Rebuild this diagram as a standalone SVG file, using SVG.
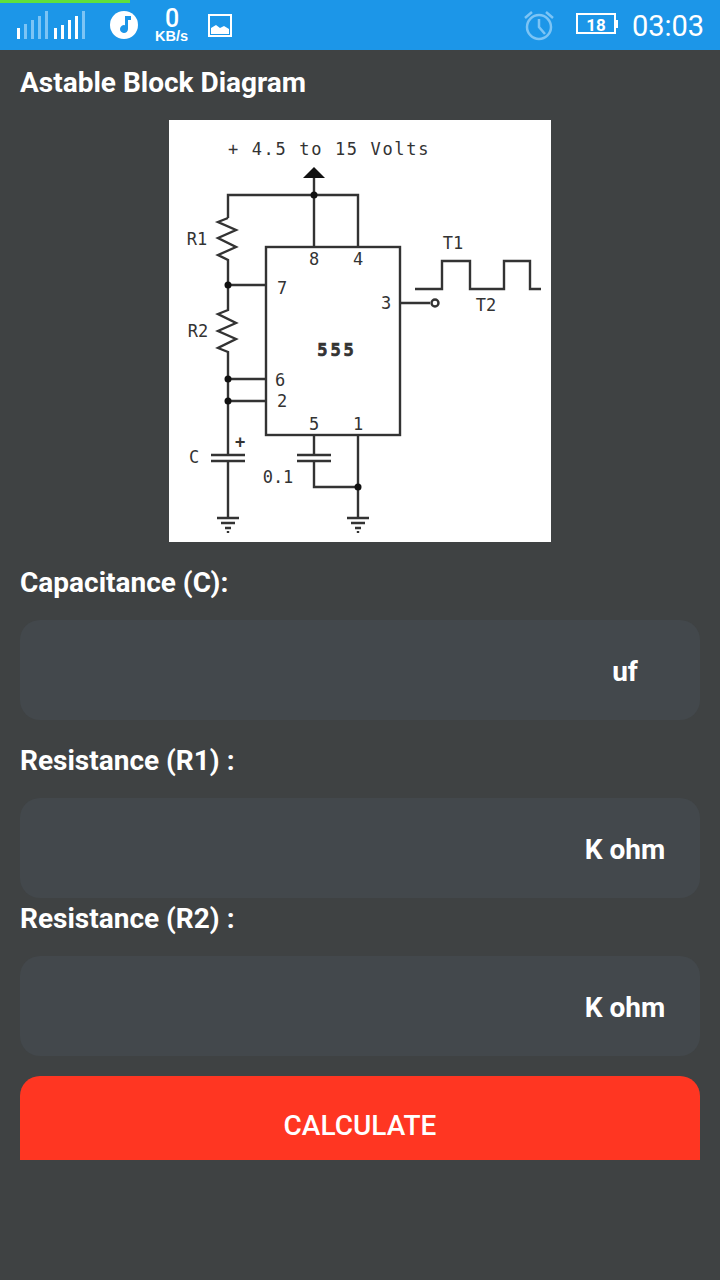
<svg xmlns="http://www.w3.org/2000/svg" width="720" height="1280" viewBox="0 0 720 1280">
<style>
.ui{font-family:Roboto,"Liberation Sans",sans-serif;fill:#fff}
.lab{font-size:28px;font-weight:700}
.unit{font-size:28px;font-weight:700;text-anchor:middle}
.field{fill:#43484c}
.w{fill:none;stroke:#333;stroke-width:2.400}
.dot{fill:#111}
.c{font-family:"DejaVu Sans Mono","Liberation Mono",monospace;font-size:17px;fill:#333;text-anchor:middle}
.sig{fill:#fff}
.sigd{fill:#7cc4f5}
</style>
<rect width="720" height="1280" fill="#3f4243"/>
<g id="status-bar">
<rect width="720" height="50" fill="#1c96e8"/>
<rect width="130" height="3" fill="#5fe03c"/>
<g class="sig">
<rect x="17" y="28" width="3" height="11"/><rect x="54" y="28" width="3" height="11"/><rect x="61" y="25" width="3" height="14"/><rect x="68" y="20" width="3" height="19"/><rect x="75" y="16" width="3" height="23"/>
</g>
<g class="sigd">
<rect x="24" y="24" width="3" height="15"/><rect x="31" y="20" width="3" height="19"/><rect x="38" y="16" width="3" height="23"/><rect x="45" y="11" width="3" height="28"/><rect x="82" y="11" width="3" height="28"/>
</g>
<circle cx="124" cy="25" r="14" fill="#fff"/>
<path d="M125 16h6v4h-3v9a4 4 0 1 1-3-3.800z" fill="#1c96e8"/>
<text x="172" y="27" class="ui" font-size="25" font-weight="500" text-anchor="middle">0</text>
<text x="171.500" y="41" font-family="Liberation Sans,sans-serif" font-size="14.500" font-weight="700" fill="#fff" text-anchor="middle">KB/s</text>
<rect x="209" y="15" width="22" height="21" fill="none" stroke="#fff" stroke-width="2"/>
<path d="M211 34v-6l5-3 4 3 4-2 5 3v5z" fill="#fff"/>
<g fill="none" stroke="#7cc4f5" stroke-width="2.500">
<circle cx="539" cy="27" r="12"/><path d="M539 19v8l6 7M525 18l7-6M553 18l-7-6"/>
</g>
<rect x="577" y="14" width="38" height="19" fill="none" stroke="#fff" stroke-width="2"/>
<rect x="616" y="20" width="2" height="8" fill="#fff"/>
<text x="596" y="31" class="ui" font-size="17" font-weight="700" text-anchor="middle">18</text>
<text x="668" y="36" class="ui" font-size="29" text-anchor="middle">03:03</text>
</g>
<text id="title" x="20" y="92" class="ui lab">Astable Block Diagram</text>
<g id="circuit">
<rect x="169" y="120" width="382" height="422" fill="#fff"/>
<g id="connectors" class="w">
<path d="M228 218V195H358V247M314 172V247"/>
<path d="M228 218L218 222 236 230 218 238 236 247 218 255 228 260V310L218 314 236 323 218 331 236 339 218 348 228 352V455"/>
<path d="M228 285H266M228 379H266M228 401H266M228 461V518"/>
<path d="M211 455H245M211 461H245M297 455H331M297 461H331"/>
<path d="M314 435V455M314 461V487H358M358 435V518"/>
<path d="M217 518H239M221 523H235M225 528H231M228 531v2M347 518H369M351 523H365M355 528H361M358 531v2"/>
<path d="M400 303H430M415 289H442V261H470V289H504V261H530V289H541"/>
<circle cx="435" cy="303" r="3.500"/>
</g>
<rect id="chip" x="266" y="247" width="134" height="188" class="w"/>
<path d="M314 167L325 178H303z" class="dot"/>
<circle cx="314" cy="195" r="3.500" class="dot"/><circle cx="228" cy="285" r="3.500" class="dot"/><circle cx="228" cy="379" r="3.500" class="dot"/><circle cx="228" cy="401" r="3.500" class="dot"/><circle cx="358" cy="487" r="3.500" class="dot"/>
<text x="329" y="155" class="c" letter-spacing="1.650">+ 4.5 to 15 Volts</text>
<text x="197" y="245" class="c">R1</text><text x="198" y="337" class="c">R2</text>
<text x="314" y="265" class="c">8</text><text x="358" y="265" class="c">4</text><text x="282" y="294" class="c">7</text><text x="386" y="309" class="c">3</text>
<text x="280" y="386" class="c">6</text><text x="282" y="407" class="c">2</text><text x="314" y="430" class="c">5</text><text x="358" y="430" class="c">1</text>
<text x="337" y="356" class="c" font-weight="700" font-size="20" letter-spacing="3" stroke="#333" stroke-width="0.700">555</text>
<text x="194" y="463" class="c">C</text><text x="240" y="448" class="c" font-weight="700">+</text><text x="278" y="483" class="c">0.1</text>
<text x="453" y="249" class="c">T1</text><text x="486" y="311" class="c">T2</text>
</g>
<text x="20" y="592" class="ui lab">Capacitance (C):</text>
<g id="input-c"><rect class="field" x="20" y="620" width="680" height="100" rx="20"/><text x="625" y="681" class="ui unit">uf</text></g>
<text x="20" y="770" class="ui lab">Resistance (R1) :</text>
<g id="input-r1"><rect class="field" x="20" y="798" width="680" height="100" rx="20"/><text x="625" y="859" class="ui unit">K ohm</text></g>
<text x="20" y="928" class="ui lab">Resistance (R2) :</text>
<g id="input-r2"><rect class="field" x="20" y="956" width="680" height="100" rx="20"/><text x="625" y="1017" class="ui unit">K ohm</text></g>
<g id="calculate"><path d="M20 1160V1096a20 20 0 0 1 20-20H680a20 20 0 0 1 20 20V1160z" fill="#ff3622"/><text x="360" y="1135" class="ui" font-size="28" font-weight="500" text-anchor="middle">CALCULATE</text></g>
</svg>
